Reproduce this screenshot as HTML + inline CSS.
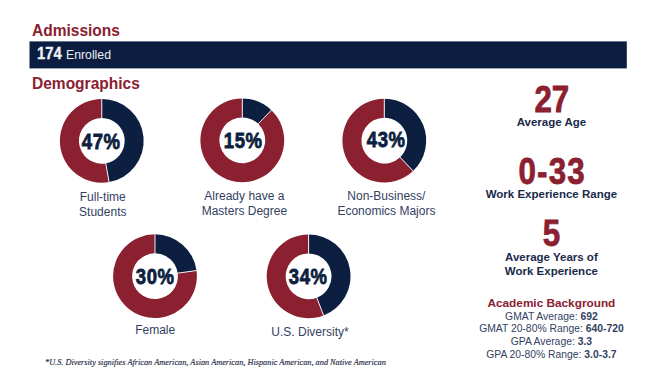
<!DOCTYPE html><html><head><meta charset="utf-8"><style>html,body{margin:0;padding:0;background:#fff;width:660px;height:377px;overflow:hidden;position:relative}b{font-weight:bold}</style></head><body><svg width="660" height="377" style="position:absolute;left:0;top:0"><path d="M101.80 98.95A41.9 41.9 0 0 1 109.08 182.11L105.78 163.40A22.9 22.9 0 0 0 101.80 117.95Z" fill="#0c1f40"/><path d="M109.08 182.11A41.9 41.9 0 1 1 101.80 98.95L101.80 117.95A22.9 22.9 0 1 0 105.78 163.40Z" fill="#8a2030"/><line x1="101.80" y1="118.95" x2="101.80" y2="97.95" stroke="#fff" stroke-width="0.9"/><line x1="105.60" y1="162.42" x2="109.25" y2="183.10" stroke="#fff" stroke-width="0.9"/><path d="M242.30 98.40A41.9 41.9 0 0 1 271.41 110.16L258.21 123.83A22.9 22.9 0 0 0 242.30 117.40Z" fill="#0c1f40"/><path d="M271.41 110.16A41.9 41.9 0 1 1 242.30 98.40L242.30 117.40A22.9 22.9 0 1 0 258.21 123.83Z" fill="#8a2030"/><line x1="242.30" y1="118.40" x2="242.30" y2="97.40" stroke="#fff" stroke-width="0.9"/><line x1="257.51" y1="124.55" x2="272.10" y2="109.44" stroke="#fff" stroke-width="0.9"/><path d="M384.30 98.70A41.9 41.9 0 0 1 413.14 170.99L400.06 157.21A22.9 22.9 0 0 0 384.30 117.70Z" fill="#0c1f40"/><path d="M413.14 170.99A41.9 41.9 0 1 1 384.30 98.70L384.30 117.70A22.9 22.9 0 1 0 400.06 157.21Z" fill="#8a2030"/><line x1="384.30" y1="118.70" x2="384.30" y2="97.70" stroke="#fff" stroke-width="0.9"/><line x1="399.37" y1="156.49" x2="413.83" y2="171.72" stroke="#fff" stroke-width="0.9"/><path d="M155.00 234.30A41.9 41.9 0 0 1 196.52 270.59L177.69 273.13A22.9 22.9 0 0 0 155.00 253.30Z" fill="#0c1f40"/><path d="M196.52 270.59A41.9 41.9 0 1 1 155.00 234.30L155.00 253.30A22.9 22.9 0 1 0 177.69 273.13Z" fill="#8a2030"/><line x1="155.00" y1="254.30" x2="155.00" y2="233.30" stroke="#fff" stroke-width="0.9"/><line x1="176.70" y1="273.27" x2="197.51" y2="270.45" stroke="#fff" stroke-width="0.9"/><path d="M308.60 234.40A41.9 41.9 0 0 1 323.62 315.42L316.81 297.68A22.9 22.9 0 0 0 308.60 253.40Z" fill="#0c1f40"/><path d="M323.62 315.42A41.9 41.9 0 1 1 308.60 234.40L308.60 253.40A22.9 22.9 0 1 0 316.81 297.68Z" fill="#8a2030"/><line x1="308.60" y1="254.40" x2="308.60" y2="233.40" stroke="#fff" stroke-width="0.9"/><line x1="316.45" y1="296.75" x2="323.97" y2="316.35" stroke="#fff" stroke-width="0.9"/><rect x="29.5" y="41.4" width="597.3" height="27" fill="#0b1e41"/></svg>
<div style="position:absolute;left:31.80px;top:23px;font:normal bold 16px/16px 'Liberation Sans',sans-serif;color:#8a2030;white-space:nowrap;transform:scaleX(0.97);transform-origin:0 50%;">Admissions</div>
<div style="position:absolute;left:32.10px;top:76px;font:normal bold 16px/16px 'Liberation Sans',sans-serif;color:#8a2030;white-space:nowrap;transform:scaleX(0.97);transform-origin:0 50%;">Demographics</div>
<div style="position:absolute;left:37.00px;top:46px;font:normal bold 16px/16px 'Liberation Sans',sans-serif;color:#eef1f6;white-space:nowrap;transform:scaleX(0.93);transform-origin:0 50%;-webkit-text-stroke:0.3px #eef1f6">174</div>
<div style="position:absolute;left:66.30px;top:49px;font:normal normal 12.5px/12.5px 'Liberation Sans',sans-serif;color:#eef1f6;white-space:nowrap;transform:scaleX(0.98);transform-origin:0 50%;">Enrolled</div>
<div style="position:absolute;left:41.50px;top:131px;width:120px;text-align:center;font:normal bold 22.0px/22.0px 'Liberation Sans',sans-serif;color:#0c1f40;white-space:nowrap"><span style="display:inline-block;transform:scaleX(0.84);transform-origin:50% 50%;-webkit-text-stroke:0.8px #0c1f40;letter-spacing:0.8px">47%</span></div>
<div style="position:absolute;left:183.05px;top:130px;width:120px;text-align:center;font:normal bold 22.0px/22.0px 'Liberation Sans',sans-serif;color:#0c1f40;white-space:nowrap"><span style="display:inline-block;transform:scaleX(0.84);transform-origin:50% 50%;-webkit-text-stroke:0.8px #0c1f40;letter-spacing:0.8px">15%</span></div>
<div style="position:absolute;left:325.95px;top:129px;width:120px;text-align:center;font:normal bold 22.0px/22.0px 'Liberation Sans',sans-serif;color:#0c1f40;white-space:nowrap"><span style="display:inline-block;transform:scaleX(0.84);transform-origin:50% 50%;-webkit-text-stroke:0.8px #0c1f40;letter-spacing:0.8px">43%</span></div>
<div style="position:absolute;left:95.55px;top:266px;width:120px;text-align:center;font:normal bold 22.0px/22.0px 'Liberation Sans',sans-serif;color:#0c1f40;white-space:nowrap"><span style="display:inline-block;transform:scaleX(0.84);transform-origin:50% 50%;-webkit-text-stroke:0.8px #0c1f40;letter-spacing:0.8px">30%</span></div>
<div style="position:absolute;left:248.55px;top:266px;width:120px;text-align:center;font:normal bold 22.0px/22.0px 'Liberation Sans',sans-serif;color:#0c1f40;white-space:nowrap"><span style="display:inline-block;transform:scaleX(0.84);transform-origin:50% 50%;-webkit-text-stroke:0.8px #0c1f40;letter-spacing:0.8px">34%</span></div>
<div style="position:absolute;left:32.80px;top:191px;width:140px;text-align:center;font:normal normal 12px/12px 'Liberation Sans',sans-serif;color:#33415f;white-space:nowrap"><span style="display:inline-block;transform:scaleX(1.0);transform-origin:50% 50%;">Full-time</span></div>
<div style="position:absolute;left:32.80px;top:206px;width:140px;text-align:center;font:normal normal 12px/12px 'Liberation Sans',sans-serif;color:#33415f;white-space:nowrap"><span style="display:inline-block;transform:scaleX(1.0);transform-origin:50% 50%;">Students</span></div>
<div style="position:absolute;left:174.40px;top:190px;width:140px;text-align:center;font:normal normal 12px/12px 'Liberation Sans',sans-serif;color:#33415f;white-space:nowrap"><span style="display:inline-block;transform:scaleX(1.0);transform-origin:50% 50%;">Already have a</span></div>
<div style="position:absolute;left:174.40px;top:205px;width:140px;text-align:center;font:normal normal 12px/12px 'Liberation Sans',sans-serif;color:#33415f;white-space:nowrap"><span style="display:inline-block;transform:scaleX(1.0);transform-origin:50% 50%;">Masters Degree</span></div>
<div style="position:absolute;left:316.40px;top:190px;width:140px;text-align:center;font:normal normal 12px/12px 'Liberation Sans',sans-serif;color:#33415f;white-space:nowrap"><span style="display:inline-block;transform:scaleX(1.0);transform-origin:50% 50%;">Non-Business/</span></div>
<div style="position:absolute;left:316.40px;top:205px;width:140px;text-align:center;font:normal normal 12px/12px 'Liberation Sans',sans-serif;color:#33415f;white-space:nowrap"><span style="display:inline-block;transform:scaleX(1.0);transform-origin:50% 50%;">Economics Majors</span></div>
<div style="position:absolute;left:85.20px;top:324px;width:140px;text-align:center;font:normal normal 12px/12px 'Liberation Sans',sans-serif;color:#33415f;white-space:nowrap"><span style="display:inline-block;transform:scaleX(1.0);transform-origin:50% 50%;">Female</span></div>
<div style="position:absolute;left:240.00px;top:326px;width:140px;text-align:center;font:normal normal 12px/12px 'Liberation Sans',sans-serif;color:#33415f;white-space:nowrap"><span style="display:inline-block;transform:scaleX(1.0);transform-origin:50% 50%;">U.S. Diversity*</span></div>
<div style="position:absolute;left:471.40px;top:81px;width:160px;text-align:center;font:normal bold 37.5px/37.5px 'Liberation Sans',sans-serif;color:#8a2030;white-space:nowrap"><span style="display:inline-block;transform:scaleX(0.835);transform-origin:50% 50%;-webkit-text-stroke:0.8px #8a2030">27</span></div>
<div style="position:absolute;left:451.40px;top:117px;width:200px;text-align:center;font:normal bold 11.5px/11.5px 'Liberation Sans',sans-serif;color:#1a2a4a;white-space:nowrap"><span style="display:inline-block;transform:scaleX(1.0);transform-origin:50% 50%;">Average Age</span></div>
<div style="position:absolute;left:472.00px;top:153px;width:160px;text-align:center;font:normal bold 37.5px/37.5px 'Liberation Sans',sans-serif;color:#8a2030;white-space:nowrap"><span style="display:inline-block;transform:scaleX(0.835);transform-origin:50% 50%;-webkit-text-stroke:0.8px #8a2030;letter-spacing:1.3px">0-33</span></div>
<div style="position:absolute;left:451.40px;top:189px;width:200px;text-align:center;font:normal bold 11.5px/11.5px 'Liberation Sans',sans-serif;color:#1a2a4a;white-space:nowrap"><span style="display:inline-block;transform:scaleX(1.0);transform-origin:50% 50%;">Work Experience Range</span></div>
<div style="position:absolute;left:471.40px;top:215px;width:160px;text-align:center;font:normal bold 37.5px/37.5px 'Liberation Sans',sans-serif;color:#8a2030;white-space:nowrap"><span style="display:inline-block;transform:scaleX(0.835);transform-origin:50% 50%;-webkit-text-stroke:0.8px #8a2030">5</span></div>
<div style="position:absolute;left:451.40px;top:252px;width:200px;text-align:center;font:normal bold 11.5px/11.5px 'Liberation Sans',sans-serif;color:#1a2a4a;white-space:nowrap"><span style="display:inline-block;transform:scaleX(1.0);transform-origin:50% 50%;">Average Years of</span></div>
<div style="position:absolute;left:451.40px;top:266px;width:200px;text-align:center;font:normal bold 11.5px/11.5px 'Liberation Sans',sans-serif;color:#1a2a4a;white-space:nowrap"><span style="display:inline-block;transform:scaleX(1.0);transform-origin:50% 50%;">Work Experience</span></div>
<div style="position:absolute;left:451.40px;top:298px;width:200px;text-align:center;font:normal bold 11.8px/11.8px 'Liberation Sans',sans-serif;color:#8a2030;white-space:nowrap"><span style="display:inline-block;transform:scaleX(1.0);transform-origin:50% 50%;">Academic Background</span></div>
<div style="position:absolute;left:451.40px;top:312px;width:200px;text-align:center;font:normal normal 10.35px/10.35px 'Liberation Sans',sans-serif;color:#33415f;white-space:nowrap"><span style="display:inline-block;transform:scaleX(1.0);transform-origin:50% 50%;">GMAT Average: <b>692</b></span></div>
<div style="position:absolute;left:451.40px;top:324px;width:200px;text-align:center;font:normal normal 10.35px/10.35px 'Liberation Sans',sans-serif;color:#33415f;white-space:nowrap"><span style="display:inline-block;transform:scaleX(1.0);transform-origin:50% 50%;">GMAT 20-80% Range: <b>640-720</b></span></div>
<div style="position:absolute;left:451.40px;top:337px;width:200px;text-align:center;font:normal normal 10.35px/10.35px 'Liberation Sans',sans-serif;color:#33415f;white-space:nowrap"><span style="display:inline-block;transform:scaleX(1.0);transform-origin:50% 50%;">GPA Average: <b>3.3</b></span></div>
<div style="position:absolute;left:451.40px;top:350px;width:200px;text-align:center;font:normal normal 10.35px/10.35px 'Liberation Sans',sans-serif;color:#33415f;white-space:nowrap"><span style="display:inline-block;transform:scaleX(1.0);transform-origin:50% 50%;">GPA 20-80% Range: <b>3.0-3.7</b></span></div>
<div style="position:absolute;left:44.5px;top:358px;font:italic normal 9.0px/9.0px Liberation Serif,serif;color:#1d2844;white-space:nowrap;transform:scaleX(0.92);transform-origin:0 50%;-webkit-text-stroke:0.15px #1d2844">*U.S. Diversity signifies African American, Asian American, Hispanic American, and Native American</div></body></html>
